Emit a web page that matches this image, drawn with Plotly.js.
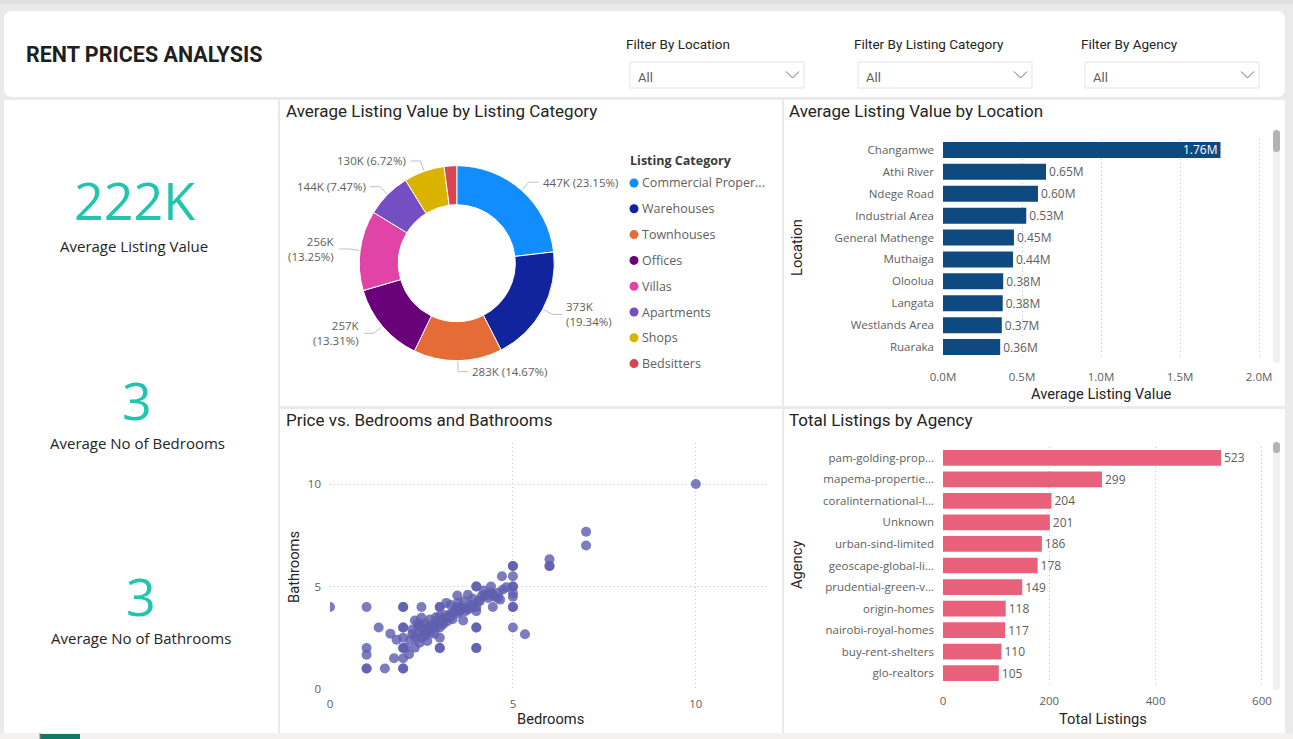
<!DOCTYPE html>
<html><head><meta charset="utf-8">
<script src="https://cdn.plot.ly/plotly-3.0.1.min.js"></script>
<style>html,body{margin:0;padding:0;background:#EAEAEA;overflow:hidden}#chart{width:1293px;height:739px}</style>
</head><body><div id="chart"></div>
<script>
// ---------------- DATA ----------------
const reportTitle = 'RENT PRICES ANALYSIS';
const filterTitles = ['Filter By Location', 'Filter By Listing Category', 'Filter By Agency'];
const filterValues = ['All', 'All', 'All'];

const kpiValues = ['222K', '3', '3'];
const kpiLabels = ['Average Listing Value', 'Average No of Bedrooms', 'Average No of Bathrooms'];

const chartTitles = ['Average Listing Value by Listing Category', 'Average Listing Value by Location',
                     'Price vs. Bedrooms and Bathrooms', 'Total Listings by Agency'];

const legendTitle = 'Listing Category';
const categoryNames = ['Commercial Properties', 'Warehouses', 'Townhouses', 'Offices', 'Villas', 'Apartments', 'Shops', 'Bedsitters'];
const categoryAvgValueK = [446.8, 373.3, 283.1, 256.9, 255.7, 144.2, 129.7, 40.3];
const categoryColors = ['#118DFF', '#12239E', '#E66C37', '#6B007B', '#E044A7', '#744EC2', '#D9B300', '#D64550'];

const locations = ['Changamwe', 'Athi River', 'Ndege Road', 'Industrial Area', 'General Mathenge', 'Muthaiga', 'Oloolua', 'Langata', 'Westlands Area', 'Ruaraka'];
const locationAvgValueM = [1.756, 0.652, 0.601, 0.527, 0.449, 0.443, 0.381, 0.378, 0.372, 0.362];
const locationTicks = [0, 0.5, 1.0, 1.5, 2.0];

const agencies = ['pam-golding-prop...', 'mapema-propertie...', 'coralinternational-l...', 'Unknown', 'urban-sind-limited', 'geoscape-global-li...', 'prudential-green-v...', 'origin-homes', 'nairobi-royal-homes', 'buy-rent-shelters', 'glo-realtors'];
const agencyListings = [523, 299, 204, 201, 186, 178, 149, 118, 117, 110, 105];
const agencyTicks = [0, 200, 400, 600];

const bedrooms = [0,1,1,1,1,1,1.33,1.5,2,2,2,2,2,2,2,2,2,2,2.5,3,3,3,3,3,3,4,4,4,4,4,4,4,4.45,4.4,5,5,5,5,5,5,5,5,5,5,5.33,4.7,6,6,6,7,7,10,
  1.65,1.82,1.75,2.16,2.07,2.32,2.25,2.32,2.41,2.5,2.5,2.45,2.66,2.64,2.73,2.82,2.91,3.0,3.09,3.18,3.18,3.27,3.36,3.45,3.48,3.55,3.64,3.66,3.73,3.77,3.86,4.0,4.05,4.14,4.23,4.32,4.45,4.59,4.65,4.73,4.82,
  2.6,2.7,2.8,2.6,2.75,2.9,2.55,2.4,2.35,2.2,2.25,2.4,2.6,2.7,3.0,3.1,3.2,3.3,3.35,3.5,3.6,3.7,3.8,3.9,3.4,3.55,3.9,4.1,4.3,4.2,4.4,4.6,4.5,3.3,3.5,2.9,3.05,2.45,2.85,3.15];
const bathrooms = [4,4,2,1.67,1,1,3,1,4,4,3,3,2.5,2,2,1.5,1,1,4,4,4,3,2.5,2,2,5,5,4,3,3,2,2,4,5,6,6,5.5,5,5,4.67,4.5,4,4,3,2.67,5.5,6.33,6,6,7.67,7,10,
  2.7,2.4,1.5,1.7,2.02,2.02,2.67,3.34,3.07,3.47,2.5,2.26,2.34,2.83,3.39,3.15,3.31,3.55,3.15,4.2,3.47,3.63,3.72,3.96,4.56,3.8,3.34,4.28,3.96,4.6,4.12,3.8,4.28,4.52,4.6,4.44,4.6,4.44,4.36,4.85,4.96,
  3.0,2.9,3.0,2.6,2.75,3.0,2.8,2.7,2.5,2.4,2.9,3.2,3.2,3.0,3.3,3.4,3.3,3.5,3.4,3.7,3.9,3.8,3.9,4.0,3.8,4.0,4.4,4.3,4.6,4.8,4.7,4.7,4.5,4.1,4.2,3.5,3.2,3.05,2.7,3.6];
const scatterTicks = [0, 5, 10];
const axisTitles = {locX: 'Average Listing Value', locY: 'Location', scX: 'Bedrooms', scY: 'Bathrooms', agX: 'Total Listings', agY: 'Agency'};

// ---------------- HELPERS ----------------
const W = 1293, H = 739;
const X = p => p / W;
const Y = p => 1 - p / H;
const SEGOE = '"Segoe UI", "Open Sans", sans-serif';
const DIN = 'Roboto, "Noto Sans", sans-serif';
const GRAY = '#605E5C', DARK = '#252423';
const shapes = [], annotations = [];

function rect(x0, y0, x1, y1, fill, line, lw, layer) {
  shapes.push({type: 'rect', xref: 'paper', yref: 'paper', x0: X(x0), x1: X(x1), y0: Y(y1), y1: Y(y0),
    fillcolor: fill, line: {color: line || 'rgba(0,0,0,0)', width: lw || 0}, layer: layer || 'below'});
}
function roundRect(x0, y0, x1, y1, r, fill, line, lw, layer) {
  const p = (x, y) => X(x) + ' ' + Y(y);
  const d = 'M ' + p(x0 + r, y0) + ' L ' + p(x1 - r, y0) + ' Q ' + p(x1, y0) + ' ' + p(x1, y0 + r) +
    ' L ' + p(x1, y1 - r) + ' Q ' + p(x1, y1) + ' ' + p(x1 - r, y1) +
    ' L ' + p(x0 + r, y1) + ' Q ' + p(x0, y1) + ' ' + p(x0, y1 - r) +
    ' L ' + p(x0, y0 + r) + ' Q ' + p(x0, y0) + ' ' + p(x0 + r, y0) + ' Z';
  shapes.push({type: 'path', xref: 'paper', yref: 'paper', path: d, fillcolor: fill,
    line: {color: line || 'rgba(0,0,0,0)', width: lw || 0}, layer: layer || 'below'});
}
function polyline(pts, color, w) {
  const d = pts.map((q, i) => (i ? 'L ' : 'M ') + X(q[0]) + ' ' + Y(q[1])).join(' ');
  shapes.push({type: 'path', xref: 'paper', yref: 'paper', path: d, line: {color: color, width: w || 1}, layer: 'above'});
}
function text(x, y, t, size, color, family, xa, extra) {
  annotations.push(Object.assign({xref: 'paper', yref: 'paper', x: X(x), y: Y(y), text: t, showarrow: false,
    xanchor: xa || 'left', yanchor: 'middle', borderpad: 0, font: {size: size, color: color, family: family}}, extra || {}));
}

// ---------------- BACKGROUND / TILES ----------------
rect(0, 0, W, 4, '#E1E1E1');
roundRect(4, 11, 1285, 97, 9, '#FFFFFF');
rect(4, 100, 278, 733, '#FFFFFF');
rect(280, 100, 782, 406, '#FFFFFF');
rect(784, 100, 1285, 406, '#FFFFFF');
rect(280, 409, 782, 733, '#FFFFFF');
rect(784, 409, 1285, 733, '#FFFFFF');
rect(0, 733, W, H, '#F3F2F1');
rect(40, 734, 80, H, '#117865');
rect(39.5, 733, 40.5, H, '#8A8886');

// header
text(25, 55, '<b>' + reportTitle + '</b>', 21.5, '#1F1F1F', DIN);
const filterX = [630, 858, 1085];
filterTitles.forEach((t, i) => {
  const fx = filterX[i];
  text(fx - 5, 44, t, 13.5, '#252423', DIN);
  rect(fx, 62, fx + 174, 88, '#FFFFFF', '#E3E3E3', 1);
  text(fx + 7, 77, filterValues[i], 13, GRAY, DIN);
  polyline([[fx + 156, 71.5], [fx + 162.5, 78], [fx + 169, 71.5]], '#6E6E6E', 1);
});

// KPI cards
const kpiY = [200, 399, 595], kpiX = [134, 137, 141], kpiLY = [246, 443, 638];
kpiValues.forEach((v, i) => {
  text(kpiX[i], kpiY[i], v, 52, '#20C5AD', SEGOE, 'center');
  text(kpiX[i], kpiLY[i], kpiLabels[i], 15, DARK, SEGOE, 'center');
});

// chart titles
text(285, 111, chartTitles[0], 17, DARK, DIN);
text(788, 111, chartTitles[1], 17, DARK, DIN);
text(285, 420, chartTitles[2], 17, DARK, DIN);
text(788, 420, chartTitles[3], 17, DARK, DIN);

// ---------------- DONUT ----------------
const pieBox = {x0: 359.3, x1: 554.3, y0: 165.7, y1: 360.7};
const pieCx = (pieBox.x0 + pieBox.x1) / 2, pieCy = (pieBox.y0 + pieBox.y1) / 2, pieR = (pieBox.x1 - pieBox.x0) / 2;
const pieTotal = categoryAvgValueK.reduce((a, b) => a + b, 0);
let cum = 0;
categoryAvgValueK.forEach((v, i) => {
  const f = v / pieTotal, mid = (cum + f / 2) * 2 * Math.PI;
  cum += f;
  if (f < 0.03) return;
  const s = Math.sin(mid), c = Math.cos(mid);
  const p0 = [pieCx + (pieR + 1) * s, pieCy - (pieR + 1) * c];
  const p1 = [pieCx + (pieR + 11) * s, pieCy - (pieR + 11) * c];
  const right = s >= -0.05;
  const p2 = [p1[0] + (right ? 10 : -10), p1[1]];
  polyline([p0, p1, p2], '#BFBFBF', 1);
  const vt = Math.round(v) + 'K', pt = '(' + (f * 100).toFixed(2) + '%)';
  const two = Math.abs(s) > 0.74;
  text(p2[0] + (right ? 3 : -3), p2[1], two ? vt + '<br>' + pt : vt + ' ' + pt, 11.5, GRAY, SEGOE,
    right ? 'left' : 'right', {align: right ? 'left' : 'right'});
});
// legend
text(629, 161, '<b>' + legendTitle + '</b>', 12.5, '#3B3A39', SEGOE);
const trunc = s => s.length > 18 ? s.slice(0, 17) + '...' : s;
categoryNames.forEach((n, i) => {
  const ly = 183 + i * 25.8;
  shapes.push({type: 'circle', xref: 'paper', yref: 'paper', x0: X(629.5), x1: X(638.5), y0: Y(ly + 4.5), y1: Y(ly - 4.5),
    fillcolor: categoryColors[i], line: {width: 0}, layer: 'above'});
  text(641, ly, trunc(n), 12.5, GRAY, SEGOE);
});

// ---------------- AXIS TITLES ----------------
text(1101, 394, axisTitles.locX, 14.7, DARK, DIN, 'center');
text(797, 248, axisTitles.locY, 14.7, DARK, DIN, 'center', {textangle: -90});
text(550, 719, axisTitles.scX, 14.7, DARK, DIN, 'center');
text(294, 567, axisTitles.scY, 14.7, DARK, DIN, 'center', {textangle: -90});
text(1103, 719, axisTitles.agX, 14.7, DARK, DIN, 'center');
text(797, 565, axisTitles.agY, 14.7, DARK, DIN, 'center', {textangle: -90});

// scrollbars
roundRect(1273, 130, 1280, 363, 3.5, '#F0F0F0', null, 0, 'above');
roundRect(1273, 130, 1280, 152, 3.5, '#B3B3B3', null, 0, 'above');
roundRect(1273, 442, 1280, 690, 3.5, '#F0F0F0', null, 0, 'above');
roundRect(1273, 442, 1280, 453, 3.5, '#B3B3B3', null, 0, 'above');

// ---------------- TRACES ----------------
const locMax = Math.max(...locationAvgValueM);
const traces = [
  {type: 'pie', labels: categoryNames, values: categoryAvgValueK, hole: 0.6, sort: false, direction: 'clockwise', rotation: 0,
    textinfo: 'none', marker: {colors: categoryColors, line: {color: '#FFFFFF', width: 1}},
    domain: {x: [X(pieBox.x0), X(pieBox.x1)], y: [Y(pieBox.y1), Y(pieBox.y0)]}, showlegend: false},
  {type: 'bar', orientation: 'h', y: locations, x: locationAvgValueM, xaxis: 'x', yaxis: 'y',
    marker: {color: '#0E4A80'}, text: locationAvgValueM.map(v => v.toFixed(2) + 'M'),
    textposition: locationAvgValueM.map(v => v > 0.5 * locMax ? 'inside' : 'outside'), insidetextanchor: 'end',
    insidetextfont: {color: '#FFFFFF', size: 12, family: SEGOE}, outsidetextfont: {color: GRAY, size: 12, family: SEGOE},
    cliponaxis: false, constraintext: 'none'},
  {type: 'scatter', mode: 'markers', x: bedrooms, y: bathrooms, xaxis: 'x2', yaxis: 'y2',
    marker: {color: '#5F5FB0', opacity: 0.82, size: 10, line: {width: 0}}},
  {type: 'bar', orientation: 'h', y: agencies, x: agencyListings, xaxis: 'x3', yaxis: 'y3',
    marker: {color: '#E8607A'}, text: agencyListings.map(String), textposition: 'outside',
    outsidetextfont: {color: GRAY, size: 12, family: SEGOE}, cliponaxis: false, constraintext: 'none'}
];

const tickFont = {size: 11.5, color: GRAY, family: SEGOE};
const gridAx = {showgrid: true, gridcolor: '#C8C6C4', griddash: '1px,3px', gridwidth: 1, zeroline: false, showline: false, ticks: '', tickfont: tickFont, fixedrange: true};
const layout = {
  width: W, height: H, margin: {l: 0, r: 0, t: 0, b: 0}, paper_bgcolor: '#EAEAEA', plot_bgcolor: 'rgba(0,0,0,0)',
  showlegend: false, bargap: 0.27, font: {family: SEGOE, color: GRAY},
  xaxis: Object.assign({}, gridAx, {domain: [X(943), X(1263)], range: [0, 2.025], tickmode: 'array', tickvals: locationTicks,
    ticktext: locationTicks.map(v => v.toFixed(1) + 'M'), anchor: 'y', ticklabelstandoff: 10}),
  yaxis: {domain: [Y(358), Y(139)], autorange: 'reversed', type: 'category', showgrid: false, zeroline: false, showline: false, ticks: '', tickfont: tickFont, anchor: 'x', ticklabelstandoff: 8, fixedrange: true},
  xaxis2: Object.assign({}, gridAx, {domain: [X(330), X(769)], range: [0, 12], tickvals: scatterTicks, anchor: 'y2', ticklabelstandoff: 6}),
  yaxis2: Object.assign({}, gridAx, {domain: [Y(689), Y(443)], range: [0, 12], tickvals: scatterTicks, anchor: 'x2', ticklabelstandoff: 8}),
  xaxis3: Object.assign({}, gridAx, {domain: [X(943), X(1263)], range: [0, 602], tickvals: agencyTicks, anchor: 'y3', ticklabelstandoff: 8}),
  yaxis3: {domain: [Y(684), Y(447)], autorange: 'reversed', type: 'category', showgrid: false, zeroline: false, showline: false, ticks: '', tickfont: tickFont, anchor: 'x3', ticklabelstandoff: 8, fixedrange: true},
  shapes: shapes, annotations: annotations
};
Plotly.newPlot('chart', traces, layout, {displayModeBar: false, staticPlot: true});
</script></body></html>
